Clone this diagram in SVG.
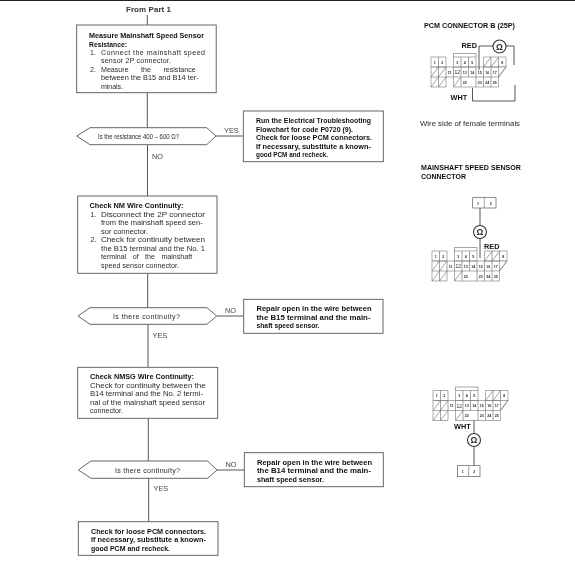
<svg xmlns="http://www.w3.org/2000/svg" xmlns:xlink="http://www.w3.org/1999/xlink" width="575" height="577" viewBox="0 0 575 577">
<style>
text{font-family:"Liberation Sans",Arial,sans-serif;font-size:7.100px;fill:#2a2a2a}
.b{font-weight:bold;fill:#111}
.n{font-size:7.400px;fill:#444}
.l{font-size:7.300px}
.s{font-size:3.600px;font-weight:bold;text-anchor:middle}
.box{fill:#fff;stroke:#555;stroke-width:.9}
.w{fill:none;stroke:#444;stroke-width:.9}
.c{fill:#fff;stroke:#777;stroke-width:.6}
.h{fill:none;stroke:#666;stroke-width:.6}
</style>
<defs>
<filter id="scan" x="0" y="0" width="100%" height="100%"><feGaussianBlur stdDeviation="0.3"/></filter>
<g id="conn">
<path class="c" d="M0 0h15v10H0zM22.500 0h22.500v10H22.500zM52.500 0h22.500v10H52.500z"/>
<path class="c" d="M0 10H75L67.500 20V10M0 10v10h67.500M22.500 20v10h45V20M0 20v10h15V20"/>
<path class="h" d="M7.500 0v10M30 0v10M37.500 0v10M60 0v10M67.500 0v10M7.500 10v20M15 10v10M22.500 10v10M30 10v20M37.500 10v10M45 10v20M52.500 10v20M60 10v20M22.500 -3.500h22.500v3.500M22.500 -3.500v3.500"/>
<path class="h" d="M52.500 10l7.500-10M60 10l7.500-10M0 20l7.500-10M7.500 20l7.500-10M0 30l7.500-10M7.500 30l7.500-10M22.500 30l7.500-10M67.500 20l7.500-10"/>
<text class="s" x="3.700" y="6.500">1</text><text class="s" x="11.200" y="6.500">2</text><text class="s" x="26.200" y="6.500">3</text><text class="s" x="33.700" y="6.500">4</text><text class="s" x="41.200" y="6.500">5</text><text class="s" x="71.200" y="6.500">8</text>
<text class="s" x="18.700" y="16.500">11</text><text class="s" style="font-size:5px;font-weight:normal" x="26.200" y="17">12</text><text class="s" x="33.700" y="16.500">13</text><text class="s" x="41.200" y="16.500">14</text><text class="s" x="48.700" y="16.500">15</text><text class="s" x="56.200" y="16.500">16</text><text class="s" x="63.700" y="16.500">17</text>
<text class="s" x="33.700" y="26.500">22</text><text class="s" x="48.700" y="26.500">23</text><text class="s" x="56.200" y="26.500">24</text><text class="s" x="63.700" y="26.500">25</text>
</g>
<g id="ohm"><circle r="6.500" fill="#fff" stroke="#333" stroke-width="1.100"/><text y="3" text-anchor="middle" style="font-size:8.500px;font-weight:bold">Ω</text></g>
</defs>
<rect width="575" height="577" fill="#fff"/>
<g filter="url(#scan)">
<rect width="575" height="1" fill="#222"/>
<g id="connectors" class="w">
<path d="M147.300 15V25M147.300 93V128M147.500 145V196M147.700 273V308M216 136H243.500M148 324V367M216.700 316H243.700M148.300 418V461M217 470H244.300M148.700 478V522"/>
</g>
<text class="n" x="126" y="12" style="font-size:8px;font-weight:bold;fill:#333" textLength="45">From Part 1</text>
<g id="n1"><rect class="box" x="76.700" y="25" width="139.500" height="67.700"/>
<text class="b" x="89" y="38" textLength="115" lengthAdjust="spacingAndGlyphs">Measure Mainshaft Speed Sensor</text><text class="b" x="89" y="46.500" textLength="38" lengthAdjust="spacingAndGlyphs">Resistance:</text>
<text x="90" y="54.500">1.</text><text x="101" y="54.500" textLength="104">Connect the mainshaft speed</text><text x="101" y="63" textLength="70">sensor 2P connector.</text>
<text x="90" y="71.500">2.</text><text x="101" y="71.500" word-spacing="10.500">Measure the resistance</text><text x="101" y="80" textLength="97.700" lengthAdjust="spacingAndGlyphs">between the B15 and B14 ter-</text><text x="101" y="88.500" textLength="22">minals.</text></g>
<g id="d1"><path class="box" d="M76.700 136L90 127.700H206.700L216 136L206.700 144.700H90Z"/><text x="98" y="138.500" textLength="81" lengthAdjust="spacingAndGlyphs">Is the resistance 400 – 600 Ω?</text></g>
<text class="n" x="224" y="133">YES</text><text class="n" x="152" y="158.500">NO</text>
<g id="n2"><rect class="box" x="243.300" y="111" width="140" height="50.700"/>
<text class="b" x="256" y="123.300" textLength="115" lengthAdjust="spacingAndGlyphs">Run the Electrical Troubleshooting</text><text class="b" x="256" y="131.800" textLength="97" lengthAdjust="spacingAndGlyphs">Flowchart for code P0720 (9).</text><text class="b" x="256" y="140.300" textLength="116" lengthAdjust="spacingAndGlyphs">Check for loose PCM connectors.</text><text class="b" x="256" y="148.800" textLength="115" lengthAdjust="spacingAndGlyphs">If necessary, substitute a known-</text><text class="b" x="256" y="157.300" textLength="72" lengthAdjust="spacingAndGlyphs">good PCM and recheck.</text></g>
<g id="n3"><rect class="box" x="77.700" y="196" width="139.300" height="77.300"/>
<text class="b" x="89.500" y="208" textLength="94" lengthAdjust="spacingAndGlyphs">Check NM Wire Continuity:</text>
<text x="90.500" y="216.500">1.</text><text x="101" y="216.500" textLength="104" lengthAdjust="spacingAndGlyphs">Disconnect the 2P connector</text><text x="101" y="225" textLength="101.700" lengthAdjust="spacingAndGlyphs">from the mainshaft speed sen-</text><text x="101" y="233.500" textLength="47" lengthAdjust="spacingAndGlyphs">sor connector.</text>
<text x="90.500" y="242">2.</text><text x="101" y="242" textLength="104" lengthAdjust="spacingAndGlyphs">Check for continuity between</text><text x="101" y="250.500" textLength="104" lengthAdjust="spacingAndGlyphs">the B15 terminal and the No. 1</text><text x="101" y="259" word-spacing="4.500">terminal of the mainshaft</text><text x="101" y="267.500" textLength="78" lengthAdjust="spacingAndGlyphs">speed sensor connector.</text></g>
<g id="d2"><path class="box" d="M78 316L90 307.700H207L216.700 316L207 324.300H90Z"/><text x="113" y="318.500" textLength="67">Is there continuity?</text></g>
<text class="n" x="225" y="313">NO</text><text class="n" x="152.500" y="337.500">YES</text>
<g id="n4"><rect class="box" x="243.700" y="299.300" width="139.300" height="34"/>
<text class="b" x="256.500" y="311" textLength="115" lengthAdjust="spacingAndGlyphs">Repair open in the wire between</text><text class="b" x="256.500" y="319.500" textLength="114" lengthAdjust="spacingAndGlyphs">the B15 terminal and the main-</text><text class="b" x="256.500" y="328" textLength="63" lengthAdjust="spacingAndGlyphs">shaft speed sensor.</text></g>
<g id="n5"><rect class="box" x="77.700" y="367.300" width="140" height="51"/>
<text class="b" x="90" y="379" textLength="104" lengthAdjust="spacingAndGlyphs">Check NMSG Wire Continuity:</text><text x="90" y="387.500" textLength="115.700" lengthAdjust="spacingAndGlyphs">Check for continuity between the</text><text x="90" y="396" textLength="113" lengthAdjust="spacingAndGlyphs">B14 terminal and the No. 2 termi-</text><text x="90" y="404.500" textLength="115" lengthAdjust="spacingAndGlyphs">nal of the mainshaft speed sensor</text><text x="90" y="413" textLength="33" lengthAdjust="spacingAndGlyphs">connector.</text></g>
<g id="d3"><path class="box" d="M78.300 470L91 461H207.500L217 470L207.500 478.300H91Z"/><text x="115" y="472.500" textLength="65">Is there continuity?</text></g>
<text class="n" x="225.500" y="466.500">NO</text><text class="n" x="153.500" y="490.500">YES</text>
<g id="n6"><rect class="box" x="244.300" y="452.700" width="139" height="34"/>
<text class="b" x="257" y="464.500" textLength="115" lengthAdjust="spacingAndGlyphs">Repair open in the wire between</text><text class="b" x="257" y="473" textLength="114" lengthAdjust="spacingAndGlyphs">the B14 terminal and the main-</text><text class="b" x="257" y="481.500" textLength="67" lengthAdjust="spacingAndGlyphs">shaft speed sensor.</text></g>
<g id="n7"><rect class="box" x="78.300" y="521.700" width="139.700" height="33.600"/>
<text class="b" x="91" y="533.500" textLength="115" lengthAdjust="spacingAndGlyphs">Check for loose PCM connectors.</text><text class="b" x="91" y="542" textLength="115" lengthAdjust="spacingAndGlyphs">If necessary, substitute a known-</text><text class="b" x="91" y="550.500" textLength="79" lengthAdjust="spacingAndGlyphs">good PCM and recheck.</text></g>
<g id="pcm-b">
<text class="b" x="424" y="28" style="font-size:6.800px" textLength="91" lengthAdjust="spacingAndGlyphs">PCM CONNECTOR B (25P)</text>
<use xlink:href="#conn" href="#conn" x="431" y="57"/>
<path class="w" d="M479 70V46H493M506 46H514V65M472.500 88V101H515V85"/>
<use xlink:href="#ohm" href="#ohm" x="499.500" y="46.500"/>
<text class="b l" x="461.500" y="47.500">RED</text><text class="b l" x="450.500" y="100">WHT</text>
<text x="420" y="126" style="font-size:7.200px" textLength="100" lengthAdjust="spacingAndGlyphs">Wire side of female terminals</text>
</g>
<g id="mainshaft">
<text class="b" x="421" y="170" style="font-size:7px" textLength="100" lengthAdjust="spacingAndGlyphs">MAINSHAFT SPEED SENSOR</text><text class="b" x="421" y="179" style="font-size:7px">CONNECTOR</text>
<rect class="c" x="472.700" y="197.700" width="23.300" height="10.300" style="stroke:#444"/><path class="h" d="M484.300 197.700v10.300"/>
<text class="s" x="478" y="204.500">1</text><text class="s" x="490.700" y="204.500">2</text>
<path class="w" d="M480 208V225.500M480 238.500V258"/>
<use xlink:href="#ohm" href="#ohm" x="480" y="232"/>
<use xlink:href="#conn" href="#conn" x="432" y="251"/>
<text class="b l" x="484" y="249">RED</text>
</g>
<g id="bottom">
<use xlink:href="#conn" href="#conn" x="433" y="390.500"/>
<path class="w" d="M474 420V433.500M474 446.500V466"/>
<use xlink:href="#ohm" href="#ohm" x="474" y="440"/>
<text class="b l" x="454" y="429">WHT</text>
<rect class="c" x="457.300" y="465.700" width="22.700" height="11" style="stroke:#444"/><path class="h" d="M468.700 465.700v11"/>
<text class="s" x="462.700" y="472.500">1</text><text class="s" x="474.300" y="472.500">2</text>
</g>
</g>
</svg>
